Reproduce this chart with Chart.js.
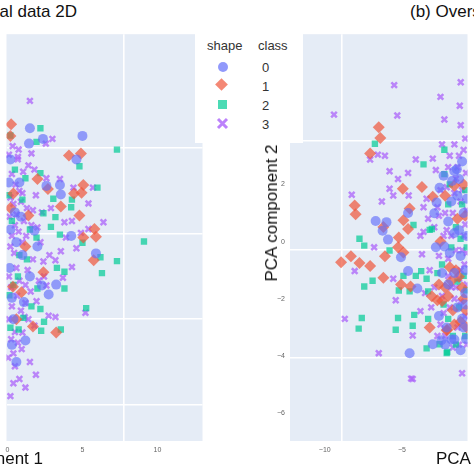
<!DOCTYPE html>
<html>
<head>
<meta charset="utf-8">
<script src="https://cdn.jsdelivr.net/npm/chart.js@4"></script>
<style>
  body { margin: 0; width: 474px; height: 474px; overflow: hidden; background: #fff; position: relative; font-family: Arial, "Liberation Sans", sans-serif; }
  .txt { position: absolute; white-space: nowrap; color: #111; font-size: 17px; }
  #left { position: absolute; left: 0; top: 25px; }
  #right { position: absolute; left: 270px; top: 25px; }
  #legend { position: absolute; left: 195px; top: 33px; width: 108px; height: 110px; background: #fff; font-size: 13px; color: #333; }
  #legend div { position: absolute; }
</style>
</head>
<body>
<canvas id="left" width="209" height="430"></canvas>
<canvas id="right" width="204" height="430"></canvas>

<div class="txt" style="right:397px;top:2px;">(a) Original data 2D</div>
<div class="txt" style="left:410px;top:2px;">(b) Oversampled data 2D</div>
<div class="txt" style="right:431px;top:449px;">PCA component 1</div>
<div class="txt" style="left:436px;top:449px;">PCA component 2</div>
<div class="txt" style="left:272px;top:213px;transform:translate(-50%,-50%) rotate(-90deg);transform-origin:center;">PCA component 2</div>

<div id="legend">
  <div style="left:12px;top:5px;">shape</div>
  <div style="left:63px;top:5px;">class</div>
  <svg style="position:absolute;left:0;top:0" width="108" height="110">
    <circle cx="28" cy="34" r="5" fill="#636efa" fill-opacity="0.7"/>
    <rect x="22" y="47" width="9" height="9" transform="rotate(45 26.5 51.5)" fill="#EF553B" fill-opacity="0.7"/>
    <rect x="23" y="67" width="9" height="9" fill="#00cc96" fill-opacity="0.7"/>
    <path d="M23 86 L32 95 M32 86 L23 95" stroke="#ab63fa" stroke-opacity="0.8" stroke-width="3"/>
  </svg>
  <div style="left:67px;top:27px;">0</div>
  <div style="left:67px;top:46px;">1</div>
  <div style="left:67px;top:65px;">2</div>
  <div style="left:67px;top:84px;">3</div>
</div>

<script>
// classes and marker look
const classes = ['0', '1', '2', '3'];
const classColors = ['rgba(99,110,250,0.65)', 'rgba(239,85,59,0.7)', 'rgba(0,204,150,0.7)', 'rgba(171,99,250,0.75)'];
const classShapes = ['circle', 'rectRot', 'rect', 'crossRot'];

// tick labels
const leftXTicks = [0, 5, 10];
const rightXTicks = [-10, -5];
const rightYTicks = [2, 0, -2, -4, -6];

// (a) original data
const leftC0 = [[1.5,2.47],[1.44,2.11],[2.37,2.22],[5.0,2.29],[4.6,1.74],[2.6,1.12],[3.5,1.14],[3.56,0.92],[1.8,0.07],[4.25,-0.05],[5.9,-0.46],[3.25,-1.19],[2.75,-1.42],[2.3,-1.21],[0.2,1.74],[0.5,0.5],[1,-0.5],[0.3,-1.5],[1.2,-2.5],[0.6,-3],[0.8,1.2],[0.2,0.1],[1.5,-1],[0.4,-2],[2,-0.3],[0.1,1.2],[0.6,-0.2],[1.1,-1.6],[0.3,-2.6],[0.9,0.4],[0.15,-0.8]];
const leftC1 = [[0.25,2.56],[0.2,2.29],[4.1,1.83],[4.9,1.88],[5.06,1.14],[4.94,0.96],[4.44,0.94],[2.7,1.05],[2.0,1.28],[3.56,0.64],[4.8,0.43],[5.8,0.11],[5.9,-0.07],[5.06,-0.09],[5.75,-0.62],[0.37,-1.24],[0.94,-1.37],[1.7,-2.17],[3.25,-2.31],[1.4,0.43],[0.4,0.94],[0.2,0.6],[1.2,-0.3],[0.6,-2.0],[2.4,-0.9]];
const leftC2 = [[2.2,2.47],[1.94,2.15],[7.3,1.97],[4.8,1.58],[6.0,1.08],[4.3,0.8],[4.25,0.62],[2.2,1.42],[3.06,0.82],[2.4,0.48],[3.2,0.39],[2.9,0.16],[3.5,-0.02],[1.94,-0.09],[5.0,-0.21],[9.1,-0.18],[7.3,-0.64],[6.2,-0.55],[6.3,-0.92],[3.8,-0.89],[3.3,-0.8],[3.8,-1.28],[2.0,-1.28],[5.25,-1.74],[2.2,-1.76],[2.44,-2.06],[2.25,-2.27],[3.56,-2.24],[0.75,-2.24],[1.06,-1.97],[1.6,-1.7],[0.13,-1.44],[0.5,1.5],[1,0.8],[0.3,0.3],[1.3,-0.6],[0.7,-1],[0.2,2.3],[0.1,0.9],[0.8,-0.5],[1.5,0.1],[0.4,-1.2],[0.2,-2.2],[1.2,1.3]];
const leftC3 = [[1.5,3.11],[3.0,2.22],[2.56,2.11],[1.6,1.88],[0.75,1.97],[0.69,1.74],[3.5,1.28],[4.4,1.08],[5.7,1.08],[5.4,0.71],[3.8,0.27],[4.3,0.3],[6.4,0.27],[5.4,0.11],[4.9,0.02],[3.9,-0.09],[4.6,-0.34],[3.56,-0.41],[3.2,-0.62],[4.3,-0.78],[3.7,-1.03],[2.44,-1.0],[2.6,-1.21],[1.94,-1.58],[1.2,-1.62],[5.2,-1.85],[2.75,-1.92],[3.2,-1.95],[1.8,-2.15],[1.0,-2.31],[0.25,-2.47],[0.4,-2.8],[1.5,-3.0],[0.8,-3.4],[0.2,-3.8],[1.9,-3.3],[0.5,-3.1],[0.3,1.4],[0.8,1.0],[1.3,0.6],[0.5,0.2],[1.9,0.9],[2.3,0.5],[0.2,-0.3],[1.0,-0.2],[1.7,-0.6],[2.2,-0.2],[0.6,-0.8],[1.2,-1.2],[0.3,-1.7],[1.8,1.5],[2.6,1.3],[2.9,0.6],[1.4,1.6],[0.9,-1.8],[2.1,-1.1],[0.4,0.7],[1.6,0.2],[2.8,-0.5],[0.1,-1.0],[1.1,0.3],[0.7,1.8],
  [0.15,0.4],[0.45,-0.45],[0.9,0.75],[0.25,-1.25],[0.65,-1.45],[1.35,-0.85],[0.1,-2.0],[0.55,1.15],[1.05,1.45],[0.35,2.05],[1.25,-0.05],[0.75,0.05],[0.2,0.85],[0.5,-2.3],[1.4,-2.0],[0.05,-2.9],[0.95,-2.7],[1.7,0.55],[2.0,0.15],[0.6,0.45],[0.3,-0.05],[1.15,-1.95],[0.8,-1.1],[1.55,-1.35],[0.1,1.85],[0.4,-3.5],[1.2,-3.6],[0.7,-2.55],[2.4,-0.65],[1.0,0.95]];

// (b) oversampled data
const rightC0 = [[-6.7,0.72],[-6.0,0.68],[-6.25,0.38],[-5.9,0.07],[-5.06,-0.55],[-4.6,1.0],[-4.6,-1.03],[-4.0,-1.64],[-4.5,-3.9],[-3.0,-3.59],[-2.44,-3.45],[-1.8,-3.42],[-2.75,1.37],[-2.56,1.88],[-2.9,0.99],[-1.44,2.53],[-1.6,2.46],[-1.3,2.19],[-1.75,2.12],[-2.25,-0.17],[-1.6,-3.42],[-1.0,1.0],[-1.2,-0.5],[-0.9,-1.8],[-1.6,0.3],[-2.0,-1.5],[-1.1,-2.7],[-2.6,-2.6],[-0.8,0.2],[-1.4,1.6],[-2.1,-3.0],[-0.85,-3.4],[-1.9,-0.4],
  [-2.3,2.3],[-1.1,2.8],[-2.0,0.7],[-1.3,0.4],[-0.9,-1.0],[-1.6,-1.1],[-2.4,-1.1],[-1.0,-3.0],[-1.4,-2.3],[-2.8,-0.2],[-1.8,1.4],[-0.8,1.5],[-1.2,-3.8],[-2.2,-3.6],[-0.9,-2.2]];
const rightC1 = [[-6.5,4.0],[-6.4,3.62],[-7.06,3.08],[-8.06,1.26],[-8.0,0.96],[-6.2,0.51],[-4.9,0.75],[-4.6,0.44],[-5.2,0.14],[-5.25,-0.2],[-4.9,-0.38],[-6.1,-0.51],[-8.94,-0.72],[-8.3,-0.51],[-7.75,-0.75],[-7.06,-0.85],[-6.2,-1.26],[-4.94,1.85],[-3.7,1.91],[-3.0,1.57],[-4.5,1.16],[-5.06,-1.5],[-4.44,-1.57],[-3.06,-1.91],[-2.7,-2.05],[-3.2,-3.0],[-2.06,-3.08],[-1.6,1.95],[-1.8,-1.37],[-1.3,-1.23],[-2.4,-2.08],[-2.1,-3.1],[-1.0,-2.0],[-1.5,-1.0],[-0.9,0.9],[-2.2,-1.6],[-1.2,-2.8],[-2.5,0.0],
  [-1.7,-2.4],[-2.0,-1.9],[-1.1,-1.6],[-0.85,-2.4],[-1.4,0.8],[-2.2,1.6],[-1.0,2.0],[-1.9,-0.9],[-0.8,-3.0],[-1.6,-2.9],[-2.6,-1.5]];
const rightC2 = [[-6.75,3.42],[-3.6,2.7],[-2.25,3.21],[-7.75,0.1],[-7.44,-0.14],[-5.8,-0.31],[-4.25,0.58],[-3.2,0.41],[-7.44,-1.57],[-6.9,-1.37],[-5.2,-1.71],[-4.5,-1.74],[-4.9,-1.2],[-4.1,-1.2],[-3.4,-1.3],[-3.75,-1.03],[-3.3,-1.74],[-7.6,-2.67],[-7.8,-3.04],[-5.25,-2.67],[-5.4,-3.08],[-4.3,-2.94],[-4.2,-2.56],[-3.3,-2.7],[-3.4,-3.73],[-2.06,-3.86],[-2.56,-3.59],[-3.06,0.44],[-2.1,-3.9],[-2.25,2.36],[-1.5,0.5],[-1.0,-1.2],[-2.0,1.3],[-1.3,-2.3],[-0.9,1.8],[-2.4,-0.8],[-1.7,-3.3],[-0.8,-0.2],
  [-1.2,0.1],[-1.8,-0.2],[-2.3,-2.2],[-1.5,-3.6],[-0.9,-3.3],[-1.1,1.3],[-1.9,2.0],[-2.7,-1.1],[-0.85,-1.7],[-1.4,-1.4],[-2.0,-2.7]];
const rightC3 = [[-5.5,5.47],[-2.5,5.06],[-1.19,5.57],[-5.3,4.41],[-2.25,4.27],[-1.25,4.75],[-1.19,4.07],[-9.4,4.44],[-8.25,1.64],[-8.06,-1.03],[-8.7,-2.7],[-6.5,-3.9],[-4.3,-4.8],[-6.3,1.4],[-7.06,2.87],[-6.56,3.04],[-6.1,3.0],[-5.8,2.46],[-5.25,2.19],[-5.8,1.85],[-5.56,1.61],[-4.56,1.61],[-4.1,2.87],[-4.6,2.4],[-3.6,1.2],[-6.8,-0.2],[-3.7,-0.44],[-3.6,0.34],[-5.4,-2.05],[-3.8,-2.43],[-4.3,-3.28],[-5.56,-1.3],[-1.1,-4.6],[-4.4,-4.79],[-2.8,2.5],[-2.5,1.8],[-2.2,1.0],[-1.8,0.2],[-1.5,2.2],[-1.2,1.4],[-0.9,0.6],[-2.6,-0.5],[-2.0,-1.2],[-1.6,-2.0],[-1.1,-0.3],[-0.8,-1.5],[-2.3,-2.5],[-1.4,-3.0],[-0.9,-2.6],[-1.9,3.0],[-1.0,3.2],[-2.9,0.5],[-3.2,-1.0],[-3.4,1.5],[-3.8,0.2],[-3.5,-1.8],[-1.3,-3.6],[-2.7,-3.3],[-0.85,2.4],[-1.7,1.0],[-1.2,-1.0],[-2.1,0.4],[-3.0,2.9],[-0.8,-0.4],[-1.5,-1.6],[-2.4,-1.9],
  [-2.0,2.6],[-1.4,2.6],[-0.9,3.6],[-1.6,3.4],[-2.4,3.4],[-2.7,1.2],[-2.3,0.2],[-1.5,-0.3],[-1.0,0.2],[-2.0,-0.6],[-2.9,-1.6],[-2.5,-2.9],[-1.9,-2.3],[-1.2,-2.1],[-0.8,-3.6],[-1.7,-3.7],[-1.1,1.8],[-0.8,1.1],[-1.3,-1.3],[-2.6,0.9],[-3.1,-2.3],[-1.8,-1.6],[-0.95,-0.8],[-2.2,-3.3],[-1.6,1.7],[-3.3,0.8],[-1.3,3.0],[-2.1,1.9]];

// white grid lines that plotly drew (not on the labelled ticks in this crop)
const leftGridX = [7.75];
const leftGridY = [2, 0, -2, -4];
const rightGridX = [-8.875];
const rightGridY = [3.52, -0.27, -4.07];

const bgPlugin = {
  id: 'plotBg',
  beforeDraw(chart) {
    const a = chart.chartArea, ctx = chart.ctx;
    ctx.save();
    ctx.fillStyle = '#e5ecf6';
    ctx.fillRect(a.left, a.top, a.width, a.height);
    ctx.restore();
  }
};

const makeSets = (groups) => groups.map((pts, i) => ({
  label: classes[i],
  data: pts.map(p => ({ x: p[0], y: p[1] })),
  pointStyle: classShapes[i],
  backgroundColor: classColors[i],
  borderColor: i === 3 ? classColors[i] : 'rgba(0,0,0,0)',
  borderWidth: i === 3 ? 2.5 : 0,
  pointRadius: [5, 6, 4.5, 4][i]
}));

const gridAxis = (ticksShown, gridShown, min, max, isX, yWidth, fmt) => ({
  type: 'linear', min: min, max: max,
  afterBuildTicks: (s) => { s.ticks = ticksShown.concat(gridShown).map(v => ({ value: v })); },
  afterFit: (s) => { if (isX) s.height = 14; else s.width = yWidth; },
  grid: {
    drawTicks: false, lineWidth: 1.6,
    color: (c) => gridShown.includes(c.tick.value) ? '#ffffff' : 'rgba(0,0,0,0)'
  },
  border: { display: false },
  ticks: {
    autoSkip: false, padding: 5, color: '#666', font: { size: 7 },
    callback: (v) => ticksShown.includes(v) ? fmt(v) : ''
  }
});

const minus = (v) => String(v).replace('-', '\u2212');

const makeChart = (id, groups, xr, yr, xt, yt, gx, gy, yWidth) => new Chart(document.getElementById(id), {
  type: 'scatter',
  data: { datasets: makeSets(groups) },
  options: {
    responsive: false, animation: false, devicePixelRatio: 1,
    layout: { padding: 0 },
    plugins: { legend: { display: false }, tooltip: { enabled: false } },
    scales: {
      x: gridAxis(xt, gx, xr[0], xr[1], true, 0, minus),
      y: gridAxis(yt, gy, yr[0], yr[1], false, yWidth, minus)
    }
  },
  plugins: [bgPlugin]
});

// init::charts
makeChart('left', [leftC0, leftC1, leftC2, leftC3], [-0.06, 13.0], [-4.85, 4.67], leftXTicks, [], leftGridX, leftGridY, 0);
makeChart('right', [rightC0, rightC1, rightC2, rightC3], [-12.25, -0.75], [-6.97, 7.25], rightXTicks, rightYTicks, rightGridX, rightGridY, 20);
</script>
</body>
</html>
